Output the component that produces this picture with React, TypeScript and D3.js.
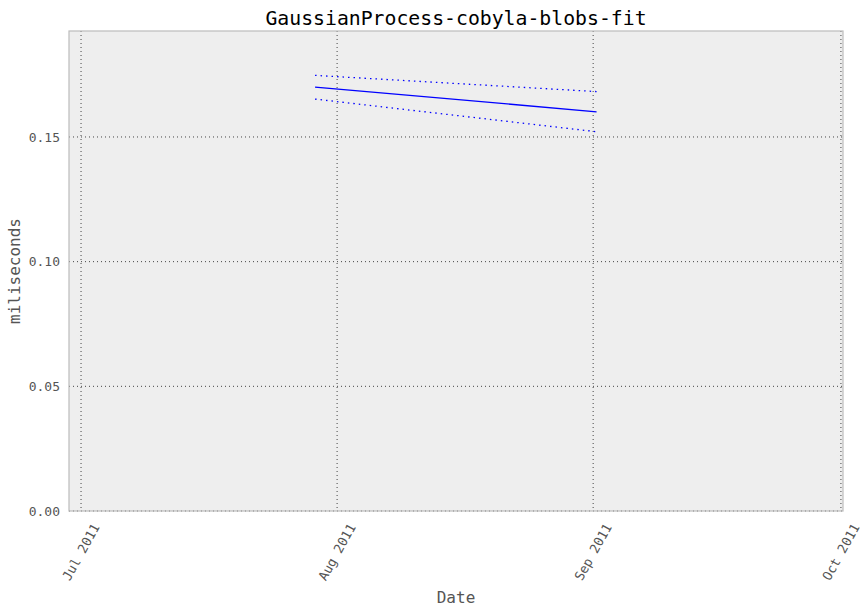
import React from "react";
import * as d3 from "d3";

const title = "GaussianProcess-cobyla-blobs-fit";
const dates = ["2011-07-29T08:00:00", "2011-09-01T10:00:00"];
const meanValues = [0.1700, 0.1601];
const upperValues = [0.1747, 0.1682];
const lowerValues = [0.1652, 0.1521];
const yTicks = [0.0, 0.05, 0.1, 0.15];
const xTickDates = ["2011-07-01", "2011-08-01", "2011-09-01", "2011-10-01"];
const xTickLabels = ["Jul 2011", "Aug 2011", "Sep 2011", "Oct 2011"];
const xDomain = ["2011-06-29T13:00:00", "2011-10-01T06:00:00"];
const yDomain = [0, 0.1925];

const W = 867, H = 613;
const M = { left: 69, right: 843, top: 31, bottom: 511 };
const mono = "'DejaVu Sans Mono', monospace";

export default function App() {
  const x = d3.scaleTime()
    .domain(xDomain.map((d) => new Date(d)))
    .range([M.left, M.right]);
  const y = d3.scaleLinear().domain(yDomain).range([M.bottom, M.top]);
  const parsed = dates.map((d) => new Date(d));
  const mk = (vals: number[]) =>
    d3.line<number>().x((_, i) => x(parsed[i])).y((v) => y(v))(vals) || "";
  const xt = xTickDates.map((d) => new Date(d));

  return (
    <svg width={W} height={H} style={{ position: "absolute", left: 0, top: 0, background: "#fff" }}>
      <rect x={M.left} y={M.top} width={M.right - M.left} height={M.bottom - M.top} fill="#eeeeee" />
      {yTicks.map((t) => (
        <line key={"gy" + t} x1={M.left} x2={M.right} y1={y(t)} y2={y(t)} stroke="#444" strokeWidth={1} strokeDasharray="1,3" />
      ))}
      {xt.map((d, i) => (
        <line key={"gx" + i} x1={x(d)} x2={x(d)} y1={M.top} y2={M.bottom} stroke="#444" strokeWidth={1} strokeDasharray="1,3" />
      ))}
      <rect x={M.left} y={M.top} width={M.right - M.left} height={M.bottom - M.top} fill="none" stroke="#bcbcbc" strokeWidth={1.2} />
      <path d={mk(upperValues)} fill="none" stroke="#0000ff" strokeWidth={1.3} strokeDasharray="1.5,4" />
      <path d={mk(lowerValues)} fill="none" stroke="#0000ff" strokeWidth={1.3} strokeDasharray="1.5,4" />
      <path d={mk(meanValues)} fill="none" stroke="#0000ff" strokeWidth={1.3} />
      {yTicks.map((t) => (
        <text key={"ty" + t} x={60} y={y(t)} dy="0.35em" textAnchor="end" fontFamily={mono} fontSize={13} fill="#555">
          {t.toFixed(2)}
        </text>
      ))}
      {xt.map((d, i) => (
        <text key={"tx" + i} transform={`translate(${x(d)},552) rotate(-61)`} textAnchor="middle" dominantBaseline="central" fontFamily={mono} fontSize={13} fill="#555">
          {xTickLabels[i]}
        </text>
      ))}
      <text x={(M.left + M.right) / 2} y={25} textAnchor="middle" fontFamily={mono} fontSize={19.8} fill="#000">
        {title}
      </text>
      <text x={(M.left + M.right) / 2} y={603} textAnchor="middle" fontFamily={mono} fontSize={16} fill="#555">
        Date
      </text>
      <text transform={`translate(20,${(M.top + M.bottom) / 2}) rotate(-90)`} textAnchor="middle" fontFamily={mono} fontSize={16} fill="#555">
        miliseconds
      </text>
    </svg>
  );
}
